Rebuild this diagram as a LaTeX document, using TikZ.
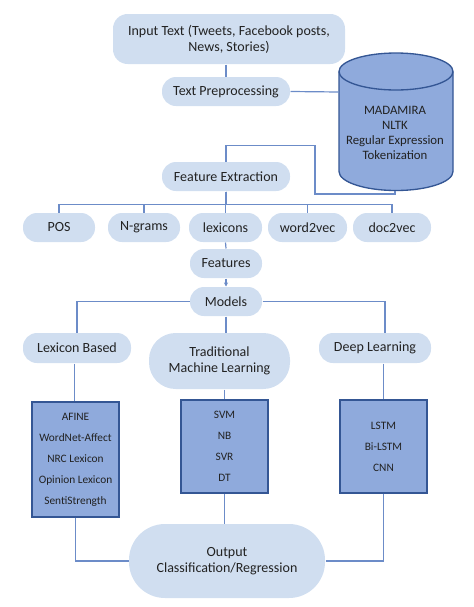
\documentclass[tikz,border=0pt]{standalone}
\usepackage{fontspec}
\setmainfont{Carlito}
\usetikzlibrary{arrows.meta}

\definecolor{pillfill}{RGB}{208,222,240}
\definecolor{boxfill}{RGB}{143,170,220}
\definecolor{boxline}{RGB}{52,86,148}
\definecolor{linkcol}{RGB}{108,140,200}
\definecolor{txtcol}{RGB}{34,34,34}

\tikzset{every picture/.style={line width=0.75pt}}
\tikzset{
	pill/.style={fill=pillfill, rounded corners=10.5pt, text=txtcol, inner sep=0pt, align=center,
		font=\fontsize{10.5}{12}\selectfont, minimum height=21.75pt},
	algobox/.style={fill=boxfill, draw=boxline, line width=1pt, text=txtcol, inner sep=0pt, align=center,
		font=\fontsize{8.5}{15.75}\selectfont, minimum width=65.25pt},
	link/.style={draw=linkcol, line width=0.9pt},
}

\begin{document}
\begin{tikzpicture}[x=0.75pt,y=0.75pt,yscale=-1,xscale=1]
	\useasboundingbox (0,0) rectangle (474,607);
	
	%Shape: Cylinder
	\fill [boxfill] (339,71.5) -- (339,171.5) arc[start angle=180, end angle=0, x radius=57, y radius=19] -- (453,71.5) -- cycle ;
	\draw [boxline, line width=1pt] (339,71.5) -- (339,171.5) arc[start angle=180, end angle=0, x radius=57, y radius=19] -- (453,71.5) ;
	\draw [boxline, line width=1pt, fill=boxfill] (396,71.5) ellipse [x radius=57, y radius=18.5] ;
	\coordinate (dbw) at (339,92);
	\coordinate (dbs) at (395,190.5);
	\coordinate (bend) at (315,194);
	% Text Node
	\node (db) at (395,133) [text=txtcol, align=center, font=\fontsize{9.6}{11.25}\selectfont] {MADAMIRA\\NLTK\\Regular Expression\\Tokenization};
	
	%Shape: Rounded Rect
	\node (in) at (229,39) [pill, rounded corners=11pt, minimum width=174pt, minimum height=37.5pt] {Input Text (Tweets, Facebook posts,\\News, Stories)};
	\node (tp) at (226,91.5) [pill, minimum width=96pt] {Text Preprocessing};
	\node (fe) at (226,176.5) [pill, minimum width=96pt] {Feature Extraction};
	\node (pos) at (59,227.5) [pill, minimum width=54pt] {POS};
	\node (ngr) at (144,227.5) [pill, minimum width=54pt] {N-grams};
	\node (lex) at (225.5,227.5) [pill, minimum width=54.75pt] {lexicons};
	\node (w2v) at (307.5,227.5) [pill, minimum width=59.25pt] {word2vec};
	\node (d2v) at (392,227.5) [pill, minimum width=58.5pt] {doc2vec};
	\node (fts) at (226,263.5) [pill, minimum width=54pt] {Features};
	\node (mod) at (226,301.5) [pill, minimum width=54pt] {Models};
	\node (lb) at (77,348) [pill, minimum width=81pt, minimum height=22.5pt] {Lexicon Based};
	\node (tml) at (219.5,361) [pill, rounded corners=20pt, minimum width=105.75pt, minimum height=42pt] {Traditional\\Machine Learning};
	\node (dl) at (375,348) [pill, minimum width=84pt, minimum height=22.5pt] {Deep Learning};
	\node (out) at (227,561) [pill, rounded corners=27pt, minimum width=147pt, minimum height=55.5pt] {Output\\Classification/Regression};
	
	%Shape: Rectangle
	\node (afn) at (75.5,459.5) [algobox, minimum height=86.25pt] {AFINE\\WordNet-Affect\\NRC Lexicon\\Opinion Lexicon\\SentiStrength};
	\node (svm) at (224.5,446.5) [algobox, minimum height=69.75pt] {SVM\\NB\\SVR\\DT};
	\node (lstm) at (383.5,446.5) [algobox, minimum height=69.75pt] {LSTM\\Bi-LSTM\\CNN};
	
	%Straight Lines
	\draw [link] (tp.north|-in.south) -- (tp.north) ;
	\draw [link] (tp.east) -- (dbw) ;
	\draw [link] (fe.north) -- ++(0,-16) -| (bend) -| (dbs) ;
	\foreach \n in {pos,ngr,lex,w2v,d2v}
		\draw [link] (fe.south) -- ++(0,13) -| (\n.north) ;
	\draw [link] (lex.south) -- (fts.north) ;
	\draw [link, -{Stealth[length=3pt,width=3pt]}] (fts.south) -- (mod.north) ;
	\draw [link] (mod.west) -| (lb.north) ;
	\draw [link] (mod.east) -| ([xshift=7.5pt]dl.north) ;
	\draw [link] (mod.south) -- (mod.south|-tml.north) ;
	\draw [link] ([xshift=-2pt]lb.south) -- ([xshift=-2pt]lb.south|-afn.north) ;
	\draw [link] (svm.north|-tml.south) -- (svm.north) ;
	\draw [link] (lstm.north|-dl.south) -- (lstm.north) ;
	\draw [link] (afn.south) |- (out.west) ;
	\draw [link] (svm.south) -- (svm.south|-out.north) ;
	\draw [link] (lstm.south) |- (out.east) ;
	
\end{tikzpicture}
\end{document}
